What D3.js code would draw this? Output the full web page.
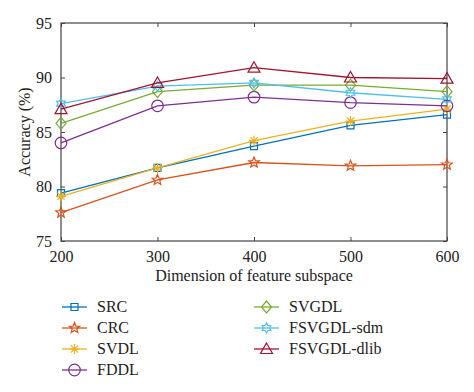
<!DOCTYPE html>
<html>
<head>
<meta charset="utf-8">
<script src="https://cdn.jsdelivr.net/npm/d3@7"></script>
<style>
  body { margin: 0; background: #fff; }
</style>
</head>
<body>
<div id="chart"></div>
<script>
// Chart data
const dims = [200, 300, 400, 500, 600];
const seriesNames = ["SRC", "CRC", "SVDL", "FDDL", "SVGDL", "FSVGDL-sdm", "FSVGDL-dlib"];
const srcVals   = [79.4, 81.7, 83.7, 85.6, 86.6];
const crcVals   = [77.6, 80.6, 82.2, 81.9, 82.0];
const svdlVals  = [79.1, 81.7, 84.2, 86.0, 87.1];
const fddlVals  = [84.0, 87.4, 88.2, 87.7, 87.4];
const svgdlVals = [85.8, 88.7, 89.3, 89.3, 88.7];
const sdmVals   = [87.6, 89.2, 89.5, 88.6, 88.0];
const dlibVals  = [87.1, 89.5, 90.9, 90.0, 89.9];
const yTicks = [75, 80, 85, 90, 95];

const colors = ["#0072BD", "#D95319", "#EDB120", "#7E2F8E", "#77AC30", "#4DBEEE", "#A2142F"];
const markers = ["square", "star", "asterisk", "circle", "diamond", "hexagram", "triangle"];
const allVals = [srcVals, crcVals, svdlVals, fddlVals, svgdlVals, sdmVals, dlibVals];

const FONT = "'Liberation Serif', 'Times New Roman', 'DejaVu Serif', serif";

const W = 474, H = 392;
const margin = {top: 23, right: 27, bottom: 151, left: 61};
const w = W - margin.left - margin.right;
const h = H - margin.top - margin.bottom;

const svg = d3.select("#chart").append("svg")
    .attr("width", W)
    .attr("height", H)
    .style("font-family", FONT);

const g = svg.append("g")
    .attr("transform", `translate(${margin.left},${margin.top})`);

const x = d3.scaleLinear().domain([200, 600]).range([0, w]);
const y = d3.scaleLinear().domain([75, 95]).range([h, 0]);

const axisColor = "#444";

// marker path generator
function markerPath(type) {
    switch (type) {
        case "square": return "M-3.5,-3.5H3.5V3.5H-3.5Z";
        case "circle": return d3.symbol(d3.symbolCircle, 105)();
        case "diamond": return "M0,-6L5,0L0,6L-5,0Z";
        case "triangle": return "M0,-6L6,4.5H-6Z";
        case "star": {
            const pts = [];
            for (let i = 0; i < 10; i++) {
                const r = i % 2 === 0 ? 5.5 : 2.4;
                const a = -Math.PI / 2 + i * Math.PI / 5;
                pts.push([r * Math.cos(a), r * Math.sin(a)]);
            }
            return "M" + pts.map(p => p.join(",")).join("L") + "Z";
        }
        case "hexagram": {
            const pts = [];
            for (let i = 0; i < 12; i++) {
                const r = i % 2 === 0 ? 5 : 2.9;
                const a = -Math.PI / 2 + i * Math.PI / 6;
                pts.push([r * Math.cos(a), r * Math.sin(a)]);
            }
            return "M" + pts.map(p => p.join(",")).join("L") + "Z";
        }
        case "asterisk": {
            const d = 3.6;
            return `M-5,0H5M0,-5V5M${-d},${-d}L${d},${d}M${-d},${d}L${d},${-d}`;
        }
    }
}

// box frame
g.append("rect")
    .attr("width", w)
    .attr("height", h)
    .attr("fill", "none")
    .attr("stroke", axisColor)
    .attr("stroke-width", 1.2);

// inward ticks
const xAxis = d3.axisBottom(x).tickValues(dims).tickSize(-4).tickPadding(8);
const yAxis = d3.axisLeft(y).tickValues(yTicks).tickSize(-4).tickPadding(8);

const gx = g.append("g")
    .attr("transform", `translate(0,${h})`)
    .call(xAxis);
const gy = g.append("g").call(yAxis);
const gxTop = g.append("g").call(d3.axisTop(x).tickValues(dims).tickSize(-4).tickFormat(""));
const gyRight = g.append("g")
    .attr("transform", `translate(${w},0)`)
    .call(d3.axisRight(y).tickValues(yTicks).tickSize(-4).tickFormat(""));

[gx, gy, gxTop, gyRight].forEach(a => {
    a.attr("font-family", FONT).attr("font-size", 16);
    a.select(".domain").remove();
    a.selectAll(".tick line").attr("stroke", axisColor);
    a.selectAll(".tick text").attr("fill", "#222");
});
gx.selectAll(".tick text").attr("dy", "0.8em");
gy.selectAll(".tick text").attr("dx", "-1px");

// axis labels
g.append("text")
    .attr("x", w / 2)
    .attr("y", h + 40)
    .attr("text-anchor", "middle")
    .attr("font-family", FONT)
    .attr("font-size", 16)
    .attr("fill", "#222")
    .text("Dimension of feature subspace");

g.append("text")
    .attr("transform", "rotate(-90)")
    .attr("x", -h / 2)
    .attr("y", -31)
    .attr("text-anchor", "middle")
    .attr("font-family", FONT)
    .attr("font-size", 16)
    .attr("fill", "#222")
    .text("Accuracy (%)");

// lines and markers
const line = d3.line()
    .x((d, i) => x(dims[i]))
    .y(d => y(d));

allVals.forEach((vals, s) => {
    g.append("path")
        .datum(vals)
        .attr("fill", "none")
        .attr("stroke", colors[s])
        .attr("stroke-width", 1.3)
        .attr("d", line);

    g.selectAll(`.m${s}`)
        .data(vals)
        .enter()
        .append("path")
        .attr("class", `m${s}`)
        .attr("transform", (d, i) => `translate(${x(dims[i])},${y(d)})`)
        .attr("d", markerPath(markers[s]))
        .attr("fill", "none")
        .attr("stroke", colors[s])
        .attr("stroke-width", 1.2);
});

// legend
const legend = svg.append("g").attr("class", "legend");
seriesNames.forEach((name, i) => {
    const col = i < 4 ? 0 : 1;
    const row = i < 4 ? i : i - 4;
    const lx = col === 0 ? 62 : 254;
    const ly = 307 + row * 21;
    const rowG = legend.append("g").attr("transform", `translate(${lx},${ly})`);
    rowG.append("line")
        .attr("x1", 0).attr("x2", 25)
        .attr("stroke", colors[i])
        .attr("stroke-width", 1.3);
    rowG.append("path")
        .attr("transform", "translate(12.5,0)")
        .attr("d", markerPath(markers[i]))
        .attr("fill", "none")
        .attr("stroke", colors[i])
        .attr("stroke-width", 1.2);
    rowG.append("text")
        .attr("x", 35)
        .attr("y", 5)
        .attr("font-family", FONT)
        .attr("font-size", 16)
        .attr("fill", "#222")
        .text(name);
});
</script>
</body>
</html>
